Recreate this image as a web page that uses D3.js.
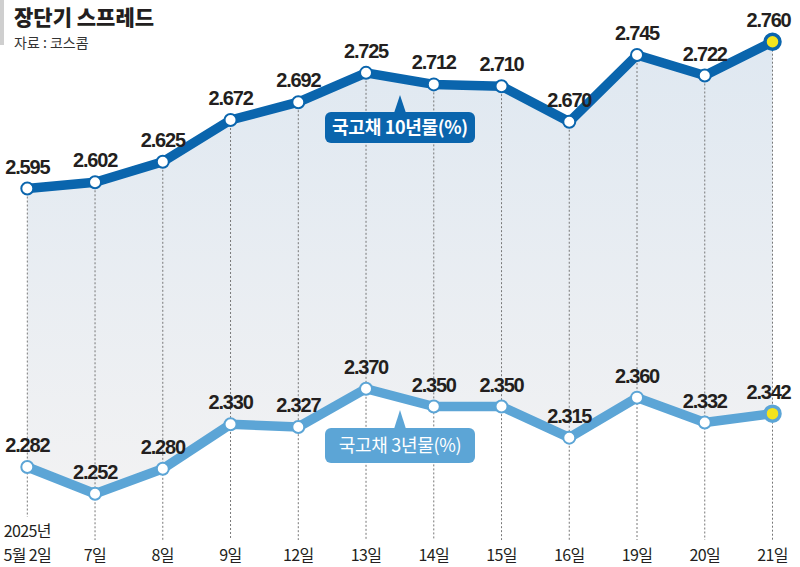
<!DOCTYPE html>
<html><head><meta charset="utf-8">
<script src="https://cdn.jsdelivr.net/npm/d3@7"></script>
<style>
html,body{margin:0;padding:0;background:#fff;}
svg{display:block;font-family:"Noto Sans CJK KR","Liberation Sans",sans-serif;}
</style></head>
<body><svg id="c" width="800" height="567"></svg>
<script>
const categories = ["2", "7일", "8일", "9일", "12일", "13일", "14일", "15일", "16일", "19일", "20일", "21일"];
const firstLabel = ["2025년", "5월 2일"];
const tenYear = [2.595, 2.602, 2.625, 2.672, 2.692, 2.725, 2.712, 2.710, 2.670, 2.745, 2.722, 2.760];
const threeYear = [2.282, 2.252, 2.280, 2.330, 2.327, 2.370, 2.350, 2.350, 2.315, 2.360, 2.332, 2.342];
const seriesNames = ["국고채 10년물(%)", "국고채 3년물(%)"];
const title = "장단기 스프레드";
const source = "자료 : 코스콤";

const svg = d3.select("#c");
const x = d3.scalePoint().domain(d3.range(categories.length)).range([27.3, 772.5]);
const y = d3.scaleLinear().domain([2.2, 2.8]).range([540, 6.1]);

const C10 = "#0a65ad", C3 = "#5ca5d6";
const numFont = "'Liberation Sans', Arial, sans-serif";

// gradient
const defs = svg.append("defs");
const g = defs.append("linearGradient").attr("id","gr").attr("x1",0).attr("y1",0).attr("x2",0).attr("y2",1);
g.append("stop").attr("offset","0%").attr("stop-color","#dfe8f1");
g.append("stop").attr("offset","100%").attr("stop-color","#f2f2f3");

// title
svg.append("rect").attr("x",0).attr("y",0).attr("width",4).attr("height",45).attr("fill","#cfcfcf");
svg.append("text").attr("x",14).attr("y",25).attr("font-size",21).attr("font-weight",900).attr("fill","#231f20").text(title);
svg.append("text").attr("x",14).attr("y",47.5).attr("font-size",14).attr("fill","#333").text(source);

// area between lines
const area = d3.area().x((d,i)=>x(i)).y0((d,i)=>y(threeYear[i])).y1(d=>y(d)).curve(d3.curveLinear);
svg.append("path").datum(tenYear).attr("d",area).attr("fill","url(#gr)");

// dashed gridlines
svg.append("g").selectAll("line").data(tenYear).join("line")
  .attr("x1",(d,i)=>x(i)).attr("x2",(d,i)=>x(i))
  .attr("y1",d=>y(d)).attr("y2",(d,i)=> i===0 ? 517 : 540)
  .attr("stroke","#777").attr("stroke-width",1).attr("stroke-dasharray","2,2");

// lines
const line = d3.line().x((d,i)=>x(i)).y(d=>y(d));
[[tenYear,C10],[threeYear,C3]].forEach(([data,col])=>{
  svg.append("path").datum(data).attr("d",line).attr("fill","none").attr("stroke",col)
    .attr("stroke-width",9.5).attr("stroke-linejoin","round");
  const n = data.length;
  svg.append("g").selectAll("circle").data(data).join("circle")
    .attr("cx",(d,i)=>x(i)).attr("cy",d=>y(d))
    .attr("r",(d,i)=> i===n-1 ? 7.5 : 6)
    .attr("fill",(d,i)=> i===n-1 ? "#f4e41c" : "#fff")
    .attr("stroke",col).attr("stroke-width",(d,i)=> i===n-1 ? 3.5 : 2);
  svg.append("g").selectAll("text").data(data).join("text")
    .attr("x",(d,i)=>x(i) + (i===n-1 ? -4 : 0)).attr("y",d=>y(d)-15)
    .attr("text-anchor","middle").attr("font-family",numFont).attr("font-weight",700)
    .attr("font-size",20).attr("letter-spacing",-1.2).attr("fill","#231f20")
    .text(d=>d3.format(".3f")(d));
});

// legend boxes
function legendBox(cx, top, h, tipY, col, label, wt){
  const w = 150;
  const gg = svg.append("g");
  gg.append("path").attr("d",`M${cx-6},${top+1}L${cx},${tipY}L${cx+6},${top+1}Z`).attr("fill",col);
  gg.append("rect").attr("x",cx-w/2).attr("y",top).attr("width",w).attr("height",h).attr("rx",6).attr("fill",col);
  gg.append("text").attr("x",cx).attr("y",top+h/2+6.5).attr("text-anchor","middle")
    .attr("font-size",18).attr("font-weight",wt).attr("letter-spacing",-0.3).attr("fill","#fff").text(label);
}
legendBox(400, 112, 31, 95, C10, seriesNames[0], 700);
legendBox(400, 428, 35, 410, C3, seriesNames[1], 400);

// x labels
const xl = svg.append("g").attr("font-size",16).attr("fill","#231f20").attr("text-anchor","middle").attr("letter-spacing",-0.6);
categories.forEach((c,i)=>{
  if(i===0){
    xl.append("text").attr("x",x(i)).attr("y",537).text(firstLabel[0]);
    xl.append("text").attr("x",x(i)).attr("y",561).text(firstLabel[1]);
  } else {
    xl.append("text").attr("x",x(i)).attr("y",561).text(c);
  }
});
</script></body></html>
